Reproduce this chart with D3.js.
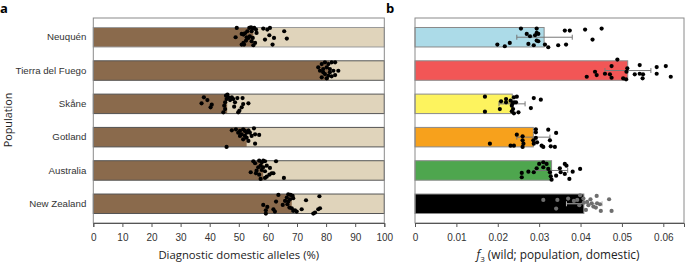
<!DOCTYPE html>
<html>
<head>
<meta charset="utf-8">
<script src="https://cdn.jsdelivr.net/npm/d3@7"></script>
<style>
  body { margin: 0; background: #fff; }
  svg { display: block; font-family: "Open Sans", "Liberation Sans", sans-serif; }
</style>
</head>
<body>
<svg id="chart" width="685" height="265"></svg>
<script>
const populations = ['Neuquén', 'Tierra del Fuego', 'Skåne', 'Gotland', 'Australia', 'New Zealand'];

// panel a: mean % of diagnostic domestic alleles per population
const domesticMean = [55, 81, 46, 52.7, 58.4, 68.2];
// individual samples: [value %, jitter px]
const domesticPoints = [
  [[49.3,-9.3],[48.9,0],[51.0,-3.3],[51.6,-2.7],[52.1,-4],[52.9,-6],[53.6,-9.3],[54.2,-10],[54.8,-8.7],[55.3,-9.3],[55.9,-7.7],[54.4,-6],[53.8,-1],[53.3,0.7],[52.5,3.3],[51.0,7.3],[51.6,5.7],[54.4,4],[55.0,8],[55.6,5.7],[54.8,0.7],[58.4,-8.7],[59.8,-7.7],[60.7,-9.3],[60.5,-2],[62.1,0.7],[59.0,2.3],[61.6,7.3],[65.6,-6],[66.5,1.3],[52.7,0],[51.8,7.3],[56.1,-4.3]],
  [[77.3,-3.2],[78.5,-6.5],[79.6,-8.2],[80.8,-6.5],[81.9,-8.2],[83.1,-8.2],[77.9,0.2],[79.0,-1.5],[80.2,-3.2],[81.3,-1.5],[82.5,0.2],[84.2,0.2],[79.6,3.5],[80.8,5.2],[81.9,5.8],[83.1,4.5],[78.5,6.8],[80.2,7.8],[79.0,1.8],[81.3,1.8]],
  [[38.0,-6.5],[37.2,-0.5],[39.2,-3.8],[40.7,0.8],[40.3,3.5],[44.7,8.5],[45.3,5.2],[45.0,1.8],[45.6,-8.2],[46.1,-9.2],[45.8,-4.8],[46.4,-6.5],[47.0,-3.8],[48.1,-4.8],[48.7,-1.5],[48.4,2.8],[49.5,-5.8],[50.2,6.8],[49.8,8.5],[51.0,3.5],[51.5,0.2],[51.3,-5.8],[53.3,-0.5],[47.6,-6.5],[45.3,-1.5]],
  [[47.6,-6.8],[49.0,-7.8],[49.8,-4.5],[50.4,-6.2],[51.0,-2.8],[51.5,-7.8],[52.1,-6.2],[52.7,-4.5],[53.3,-6.8],[53.8,-4.5],[55.2,-8.8],[55.6,-2.8],[57.0,-2.2],[52.7,0.5],[52.1,-1.2],[53.3,3.8],[51.5,2.2],[55.6,6.5],[45.8,9.8],[50.4,-1.2],[54.4,-1.2]],
  [[55.0,-9.2],[55.6,-7.2],[57.0,-9.8],[57.9,-8.2],[58.4,-9.8],[59.0,-9.2],[57.5,-4.8],[56.7,-3.2],[58.4,-3.2],[59.6,-4.8],[60.7,-2.5],[54.1,1.8],[56.1,0.2],[57.9,-0.5],[59.0,0.8],[57.0,4.2],[57.5,8.5],[59.6,6.2],[60.5,4.2],[61.3,2.8],[61.9,2.8],[59.0,7.5],[62.8,-9.2],[65.5,7.5],[55.9,2.8]],
  [[63.6,-8.8],[67.0,-9.5],[67.8,-8.8],[68.5,-7.8],[66.5,-6.2],[67.6,-4.5],[68.7,-5.5],[62.8,-2.2],[58.4,1.2],[59.8,3.2],[59.3,6.5],[59.3,9.8],[61.9,5.5],[62.4,7.8],[65.1,1.2],[66.7,0.5],[67.4,3.8],[68.2,4.5],[68.7,7.2],[69.3,6.5],[69.9,7.8],[71.6,5.5],[73.1,-3.5],[77.7,-7.5],[77.3,5.5],[76.2,8.8],[77.9,4.5],[75.6,9.8],[67.0,-2.2],[65.9,-2.8]]
];

// panel b: f3 statistic mean, error low/high, individual samples
const f3Mean = [0.0312, 0.0514, 0.0235, 0.0286, 0.0330, 0.0408];
const f3Low  = [0.0246, 0.0459, 0.0203, 0.0246, 0.0290, 0.0366];
const f3High = [0.0380, 0.0570, 0.0266, 0.0326, 0.0369, 0.0452];
const f3Points = [
  [[0.0256,-8.7],[0.0294,-8.7],[0.0294,-4.3],[0.0270,-3.3],[0.0278,-1],[0.0290,-2],[0.0298,-3.3],[0.0294,3.3],[0.0274,6.7],[0.0287,8],[0.0298,4],[0.0314,7.3],[0.0322,10],[0.0199,7.3],[0.0217,9],[0.0229,5.7],[0.0346,8],[0.0365,7.3],[0.0362,-6.7],[0.0374,-6.7],[0.0411,-7.7],[0.0451,-8.7],[0.0429,2.3]],
  [[0.0489,-11],[0.0475,-4.5],[0.0543,-5.5],[0.0584,-3.5],[0.0606,-4.5],[0.0513,-2.2],[0.0511,1.2],[0.0459,3.2],[0.0471,3.8],[0.0435,1.2],[0.0439,4.5],[0.0415,6.2],[0.0475,7.2],[0.0503,7.8],[0.0510,8.8],[0.0531,3.8],[0.0543,3.2],[0.0551,3.8],[0.0550,7.8],[0.0584,3.2],[0.0618,6.2]],
  [[0.0169,-7.2],[0.0169,7.8],[0.0208,-2.5],[0.0220,-4.8],[0.0220,-1.5],[0.0231,-3.2],[0.0239,-6.5],[0.0246,-7.2],[0.0239,-1.5],[0.0244,-1.5],[0.0236,-0.5],[0.0234,1.8],[0.0205,5.2],[0.0234,7.5],[0.0239,9.5],[0.0250,8.5],[0.0287,-5.8],[0.0304,-4.2],[0.0280,4.2],[0.0237,5.2]],
  [[0.0181,6.5],[0.0246,-2.5],[0.0260,-0.8],[0.0260,3.2],[0.0262,6.5],[0.0231,8.5],[0.0239,8.5],[0.0260,9.8],[0.0286,3.2],[0.0287,6.5],[0.0292,-4.8],[0.0292,0.8],[0.0295,5.2],[0.0306,8.5],[0.0322,-7.5],[0.0326,3.2],[0.0328,9.2],[0.0341,-4.2],[0.0338,9.8],[0.0310,9.8],[0.0292,-7.8]],
  [[0.0258,2.5],[0.0258,6.8],[0.0274,1.2],[0.0287,1.8],[0.0294,-2.2],[0.0300,-6.5],[0.0310,-8.2],[0.0318,-6.5],[0.0322,-1.5],[0.0326,1.8],[0.0328,5.8],[0.0330,9.2],[0.0341,5.2],[0.0350,-2.2],[0.0352,1.8],[0.0362,-6.5],[0.0366,-4.8],[0.0362,3.5],[0.0381,1.2],[0.0373,8.5],[0.0399,-1.5],[0.0310,-3.2]],
  [[0.0310,-3.8],[0.0344,-3.8],[0.0341,4.8],[0.0370,-5.2],[0.0384,-2.8],[0.0392,-3.8],[0.0399,-8.5],[0.0397,1.5],[0.0408,-1.2],[0.0413,6.2],[0.0416,-1.8],[0.0424,-4.5],[0.0427,-0.5],[0.0431,2.8],[0.0439,-7.8],[0.0440,-0.5],[0.0447,0.5],[0.0437,3.8],[0.0449,7.2],[0.0469,-4.5],[0.0475,7.2],[0.0407,-5.2],[0.0419,1.5]]
];
const f3Colors = ['#acdbe8', '#f25656', '#fdf35e', '#f7a11c', '#4ea64e', '#000000'];
const dotColors = ['#000', '#000', '#000', '#000', '#000', '#6e6e6e'];

const ticksA = d3.range(0, 101, 10);
const ticksB = [0, 0.01, 0.02, 0.03, 0.04, 0.05, 0.06];

const svg = d3.select('#chart');
const plotTop = 18, plotBottom = 223;

const y = d3.scaleBand().domain(populations).range([plotTop, plotBottom])
  .paddingInner(0.415).paddingOuter(0.285);
const bw = y.bandwidth();

const xA = d3.scaleLinear().domain([0, 100]).range([93.3, 384.3]);
const xB = d3.scaleLinear().domain([0, 0.065]).range([415, 684]);

function frame(x, ticks, fmt) {
  const g = svg.append('g');
  const [x0, x1] = x.range();
  g.append('rect').attr('x', x0).attr('y', plotTop).attr('width', x1 - x0).attr('height', plotBottom - plotTop)
    .attr('fill', 'none').attr('stroke', '#8a8a8a').attr('stroke-width', 1);
  const ax = svg.append('g').attr('transform', `translate(0,${plotBottom})`)
    .call(d3.axisBottom(x).tickValues(ticks).tickFormat(fmt).tickSize(4).tickPadding(7));
  ax.select('.domain').attr('stroke', '#555');
  ax.selectAll('.tick line').attr('stroke', '#555');
  ax.selectAll('.tick text').attr('fill', '#333').attr('font-size', 10);
  return g;
}

// ---- panel a ----
const gA = svg.append('g');
populations.forEach((p, i) => {
  const yy = y(p);
  gA.append('rect').attr('x', xA(0)).attr('y', yy).attr('width', xA(100) - xA(0)).attr('height', bw)
    .attr('fill', '#e0d4bb');
  gA.append('rect').attr('x', xA(0)).attr('y', yy).attr('width', xA(domesticMean[i]) - xA(0)).attr('height', bw)
    .attr('fill', '#8a6a4c');
  gA.append('rect').attr('x', xA(0)).attr('y', yy).attr('width', xA(100) - xA(0)).attr('height', bw)
    .attr('fill', 'none').attr('stroke', i === 0 ? '#9a9a9a' : '#555').attr('stroke-width', 1);
  const cy = yy + bw / 2;
  gA.selectAll(null).data(domesticPoints[i]).join('circle')
    .attr('cx', d => xA(d[0])).attr('cy', d => cy + d[1]).attr('r', 2.1).attr('fill', '#000');
});
frame(xA, ticksA, d3.format('d'));

svg.append('g').attr('transform', `translate(${xA(0)},0)`)
  .call(d3.axisLeft(y).tickSize(0).tickPadding(7))
  .call(g => g.select('.domain').remove())
  .selectAll('text').attr('fill', '#333').attr('font-size', 9.7);

// ---- panel b ----
const gB = svg.append('g');
populations.forEach((p, i) => {
  const yy = y(p);
  const cy = yy + bw / 2;
  gB.append('rect').attr('x', xB(0)).attr('y', yy).attr('width', xB(f3Mean[i]) - xB(0)).attr('height', bw)
    .attr('fill', f3Colors[i]).attr('stroke', '#8a8a8a').attr('stroke-width', 1);
  const ec = i === 5 ? '#b5b5b5' : '#777';
  gB.append('line').attr('x1', xB(f3Low[i])).attr('x2', xB(f3High[i])).attr('y1', cy).attr('y2', cy)
    .attr('stroke', ec).attr('stroke-width', 1);
  [f3Low[i], f3High[i]].forEach(v => {
    gB.append('line').attr('x1', xB(v)).attr('x2', xB(v)).attr('y1', cy - 2.5).attr('y2', cy + 2.5)
      .attr('stroke', ec).attr('stroke-width', 1);
  });
  gB.selectAll(null).data(f3Points[i]).join('circle')
    .attr('cx', d => xB(d[0])).attr('cy', d => cy + d[1]).attr('r', 2.1).attr('fill', dotColors[i]);
});
frame(xB, ticksB, d => d === 0 ? '0' : d3.format('.2f')(d));

// ---- titles ----
svg.append('text').attr('x', (xA(0) + xA(100)) / 2).attr('y', 259).attr('text-anchor', 'middle')
  .attr('font-size', 11.3).attr('fill', '#222').text('Diagnostic domestic alleles (%)');

const tb = svg.append('text').attr('x', 558).attr('y', 259).attr('text-anchor', 'middle')
  .attr('font-size', 11.8).attr('fill', '#222');
tb.append('tspan').attr('font-style', 'italic').text('f');
tb.append('tspan').attr('font-size', 8).attr('dy', 2.5).text('3');
tb.append('tspan').attr('dy', -2.5).text(' (wild; population, domestic)');

svg.append('text').attr('transform', 'translate(12,120) rotate(-90)').attr('text-anchor', 'middle')
  .attr('font-size', 10.8).attr('fill', '#222').text('Population');

svg.append('text').attr('x', 0).attr('y', 13).attr('font-size', 13).attr('font-weight', 'bold').text('a');
svg.append('text').attr('x', 386).attr('y', 13).attr('font-size', 13).attr('font-weight', 'bold').text('b');
</script>
</body>
</html>
